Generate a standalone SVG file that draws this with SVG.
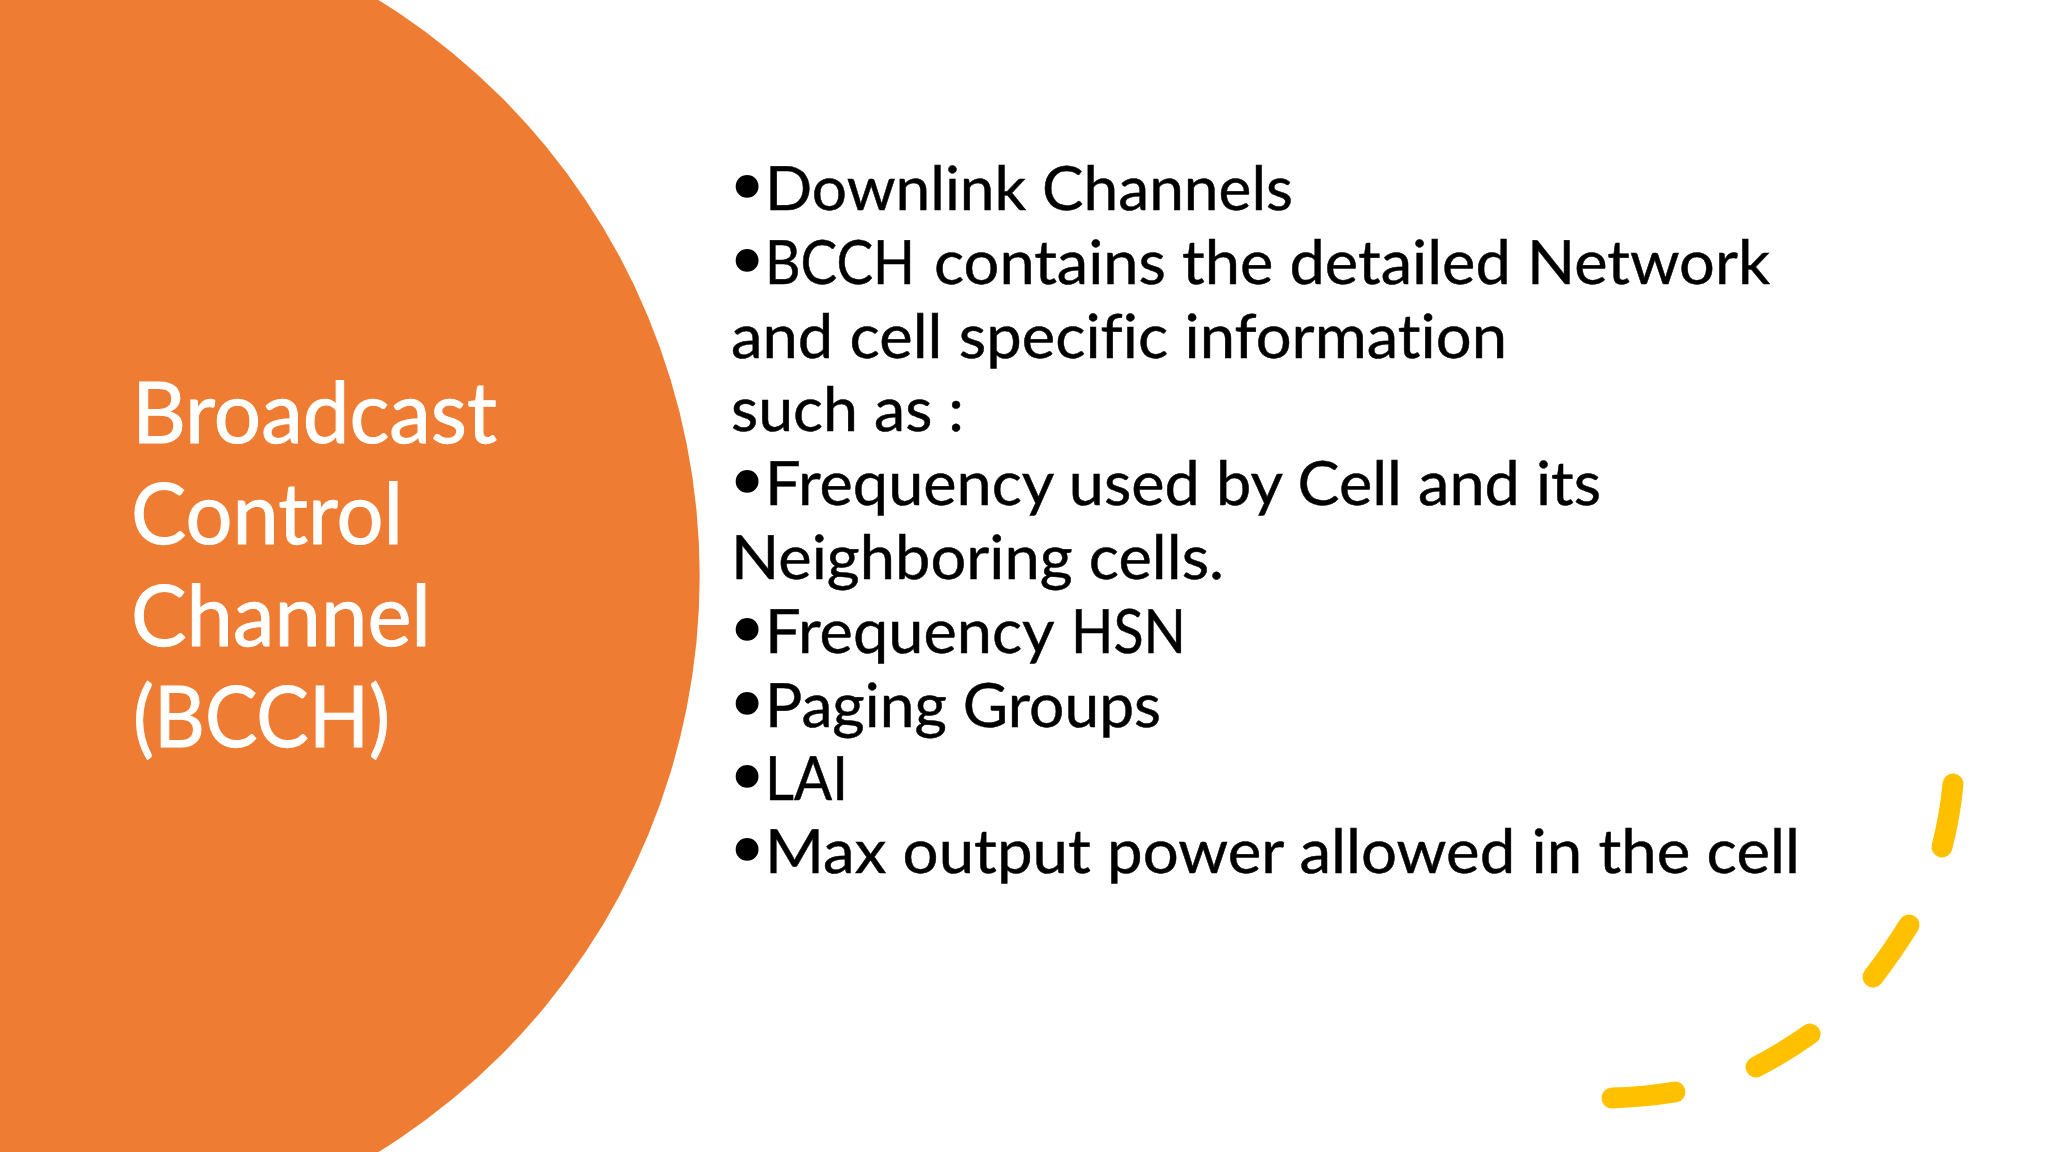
<svg xmlns="http://www.w3.org/2000/svg" width="2048" height="1152" viewBox="0 0 2048 1152">
<style>
.t{font-family:"Lato","Open Sans",sans-serif;font-size:61px;fill:#000;stroke:#000;stroke-width:.5;font-variant-ligatures:none;text-rendering:geometricPrecision}
.b{font-family:"DejaVu Sans",sans-serif;font-size:58px;stroke:#000;stroke-width:6}
.h{font-family:"Lato","Open Sans",sans-serif;font-size:85px;fill:#fff;stroke:#fff;stroke-width:1;text-rendering:geometricPrecision}
.d{fill:none;stroke:#FFC000;stroke-width:21;stroke-linecap:round}
</style>
<rect width="2048" height="1152" fill="#fff"/>
<circle cx="22.7" cy="576" r="677" fill="#EE7D33"/>
<g id="title">
<text class="h" x="132" y="443" textLength="365" lengthAdjust="spacingAndGlyphs">Broadcast</text>
<text class="h" x="131" y="544" textLength="272" lengthAdjust="spacingAndGlyphs">Control</text>
<text class="h" x="131" y="646" textLength="300" lengthAdjust="spacingAndGlyphs">Channel</text>
<text class="h" x="133" y="747" textLength="257" lengthAdjust="spacingAndGlyphs">(BCCH)</text>
</g>
<g id="body">
<text class="t"><tspan class="b" x="730" y="208">•</tspan><tspan x="765" y="210" textLength="528" lengthAdjust="spacingAndGlyphs">Downlink Channels</tspan></text>
<text class="t"><tspan class="b" x="730" y="282">•</tspan><tspan x="765" y="284" textLength="150" lengthAdjust="spacingAndGlyphs">BCCH</tspan> <tspan x="934" y="284" textLength="836" lengthAdjust="spacingAndGlyphs">contains the detailed Network</tspan></text>
<text class="t" x="731" y="358" textLength="776" lengthAdjust="spacingAndGlyphs">and cell specific information</text>
<text class="t" x="731" y="431" textLength="233" lengthAdjust="spacingAndGlyphs">such as :</text>
<text class="t"><tspan class="b" x="730" y="503">•</tspan><tspan x="765" y="505" textLength="836" lengthAdjust="spacingAndGlyphs">Frequency used by Cell and its</tspan></text>
<text class="t" x="731" y="579" textLength="493" lengthAdjust="spacingAndGlyphs">Neighboring cells.</text>
<text class="t"><tspan class="b" x="730" y="651">•</tspan><tspan x="765" y="653" textLength="288" lengthAdjust="spacingAndGlyphs">Frequency</tspan> <tspan x="1071" y="653" textLength="115" lengthAdjust="spacingAndGlyphs">HSN</tspan></text>
<text class="t"><tspan class="b" x="730" y="725">•</tspan><tspan x="765" y="727" textLength="396" lengthAdjust="spacingAndGlyphs">Paging Groups</tspan></text>
<text class="t"><tspan class="b" x="730" y="798">•</tspan><tspan x="765" y="800" textLength="83" lengthAdjust="spacingAndGlyphs">LAI</tspan></text>
<text class="t"><tspan class="b" x="730" y="871">•</tspan><tspan x="765" y="873" textLength="1035" lengthAdjust="spacingAndGlyphs">Max output power allowed in the cell</tspan></text>
</g>
<g id="dashes">
<path class="d" d="M1953 784Q1950 816 1942 847"/>
<path class="d" d="M1909 925Q1893 951 1873 977"/>
<path class="d" d="M1810 1034Q1785 1052 1756 1067"/>
<path class="d" d="M1675 1092Q1644 1097 1612 1098"/>
</g>
</svg>
